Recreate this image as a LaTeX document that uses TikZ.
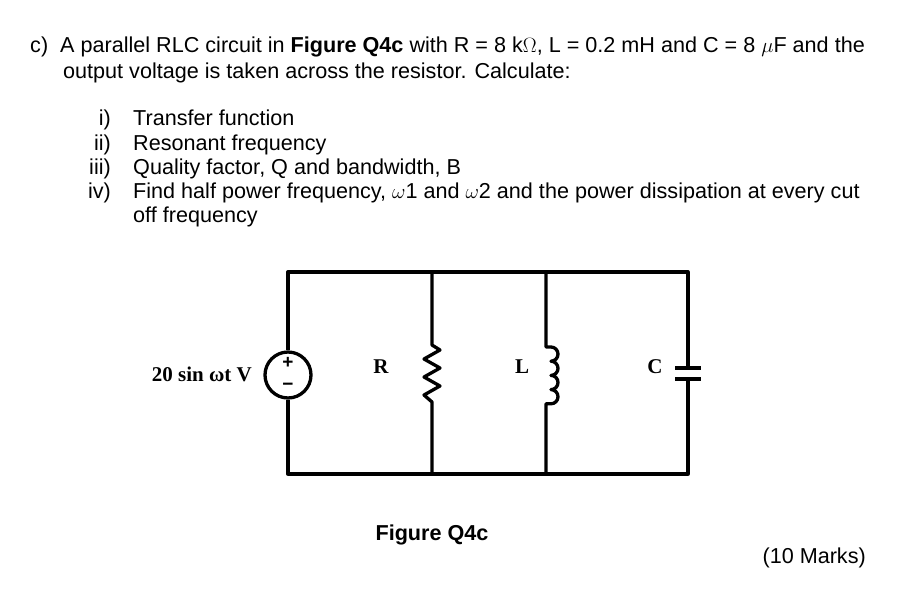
\documentclass[tikz,border=0pt]{standalone}
\usepackage{fontspec}
\setmainfont{Liberation Sans}
\newfontfamily\tnr{Liberation Serif}
\usetikzlibrary{calc}
\begin{document}
\begin{tikzpicture}[x=1pt,y=-1pt,
  txt/.style={anchor=base west,inner sep=0,font=\fontsize{21.6}{26}\selectfont},
  lab/.style={inner sep=0,font=\tnr\bfseries\fontsize{21}{24}\selectfont},
  w/.style={line width=3.3pt,line join=round}]
\useasboundingbox (0,0) rectangle (921,611);
\node[txt] (t1) at (30,52) {c)\ \ A parallel RLC circuit in \textbf{Figure Q4c} with R = 8 k$\Omega$, L = 0.2 mH and C = 8 $\mu$F and the};
\node[txt] (t2) at (63,78) {output voltage is taken across the resistor. Calculate:};
\node[txt,anchor=base east] (n1) at (111,125) {i)};
\node[txt,anchor=base east] (n2) at (111,150) {ii)};
\node[txt,anchor=base east] (n3) at (111,174) {iii)};
\node[txt,anchor=base east] (n4) at (111,198) {iv)};
\node[txt] (i1) at (133,125) {Transfer function};
\node[txt] (i2) at (133,150) {Resonant frequency};
\node[txt] (i3) at (133,174) {Quality factor, Q and bandwidth, B};
\node[txt] (i4) at (133,198) {Find half power frequency, $\omega$1 and $\omega$2 and the power dissipation at every cut};
\node[txt] (i5) at (133,222) {off frequency};
\node[txt,font=\bfseries\fontsize{21.6}{26}\selectfont,anchor=base] (fig) at (432,540) {Figure Q4c};
\node[txt,anchor=base east] (mk) at (866,563) {(10 Marks)};
% circuit
\coordinate (tl) at (288,272); \coordinate (tr) at (688,272);
\coordinate (bl) at (288,474); \coordinate (br) at (688,474);
\node[circle,draw,line width=3.3pt,minimum size=46pt,inner sep=0] (src) at (288,375) {};
\node[font=\bfseries\fontsize{19}{19}\selectfont,inner sep=0] (pl) at (288,363) {+};
\node[font=\bfseries\fontsize{19}{19}\selectfont,inner sep=0] (mi) at (288,387) {\textminus};
\draw[w] (src.north) -- (tl) -- (tr) -- (688,368);
\draw[w] (688,379) -- (br) -- (bl) -- (src.south);
\draw[w] (675,368) -- (701,368); \draw[w] (675,379) -- (701,379);
\draw[w] (432,272) -- (432,345) -- (440,350) -- (424,359) -- (440,368) -- (424,377) -- (440,386) -- (424,395) -- (432,402) -- (432,474);
\draw[w] (546,272) -- (546,347) -- (551,347)
  arc[start angle=-90,end angle=90,x radius=7,y radius=7.1] arc[start angle=-90,end angle=90,x radius=7,y radius=7.1]
  arc[start angle=-90,end angle=90,x radius=7,y radius=7.1] arc[start angle=-90,end angle=90,x radius=7,y radius=7.1]
  -- (546,403.8) -- (546,474);
\node[lab,anchor=base east] (vs) at (252,381) {20 sin ωt V};
\node[lab,anchor=base] (R) at (381,373) {R};
\node[lab,anchor=base] (L) at (522,373) {L};
\node[lab,anchor=base] (C) at (655,373) {C};
\end{tikzpicture}
\end{document}
